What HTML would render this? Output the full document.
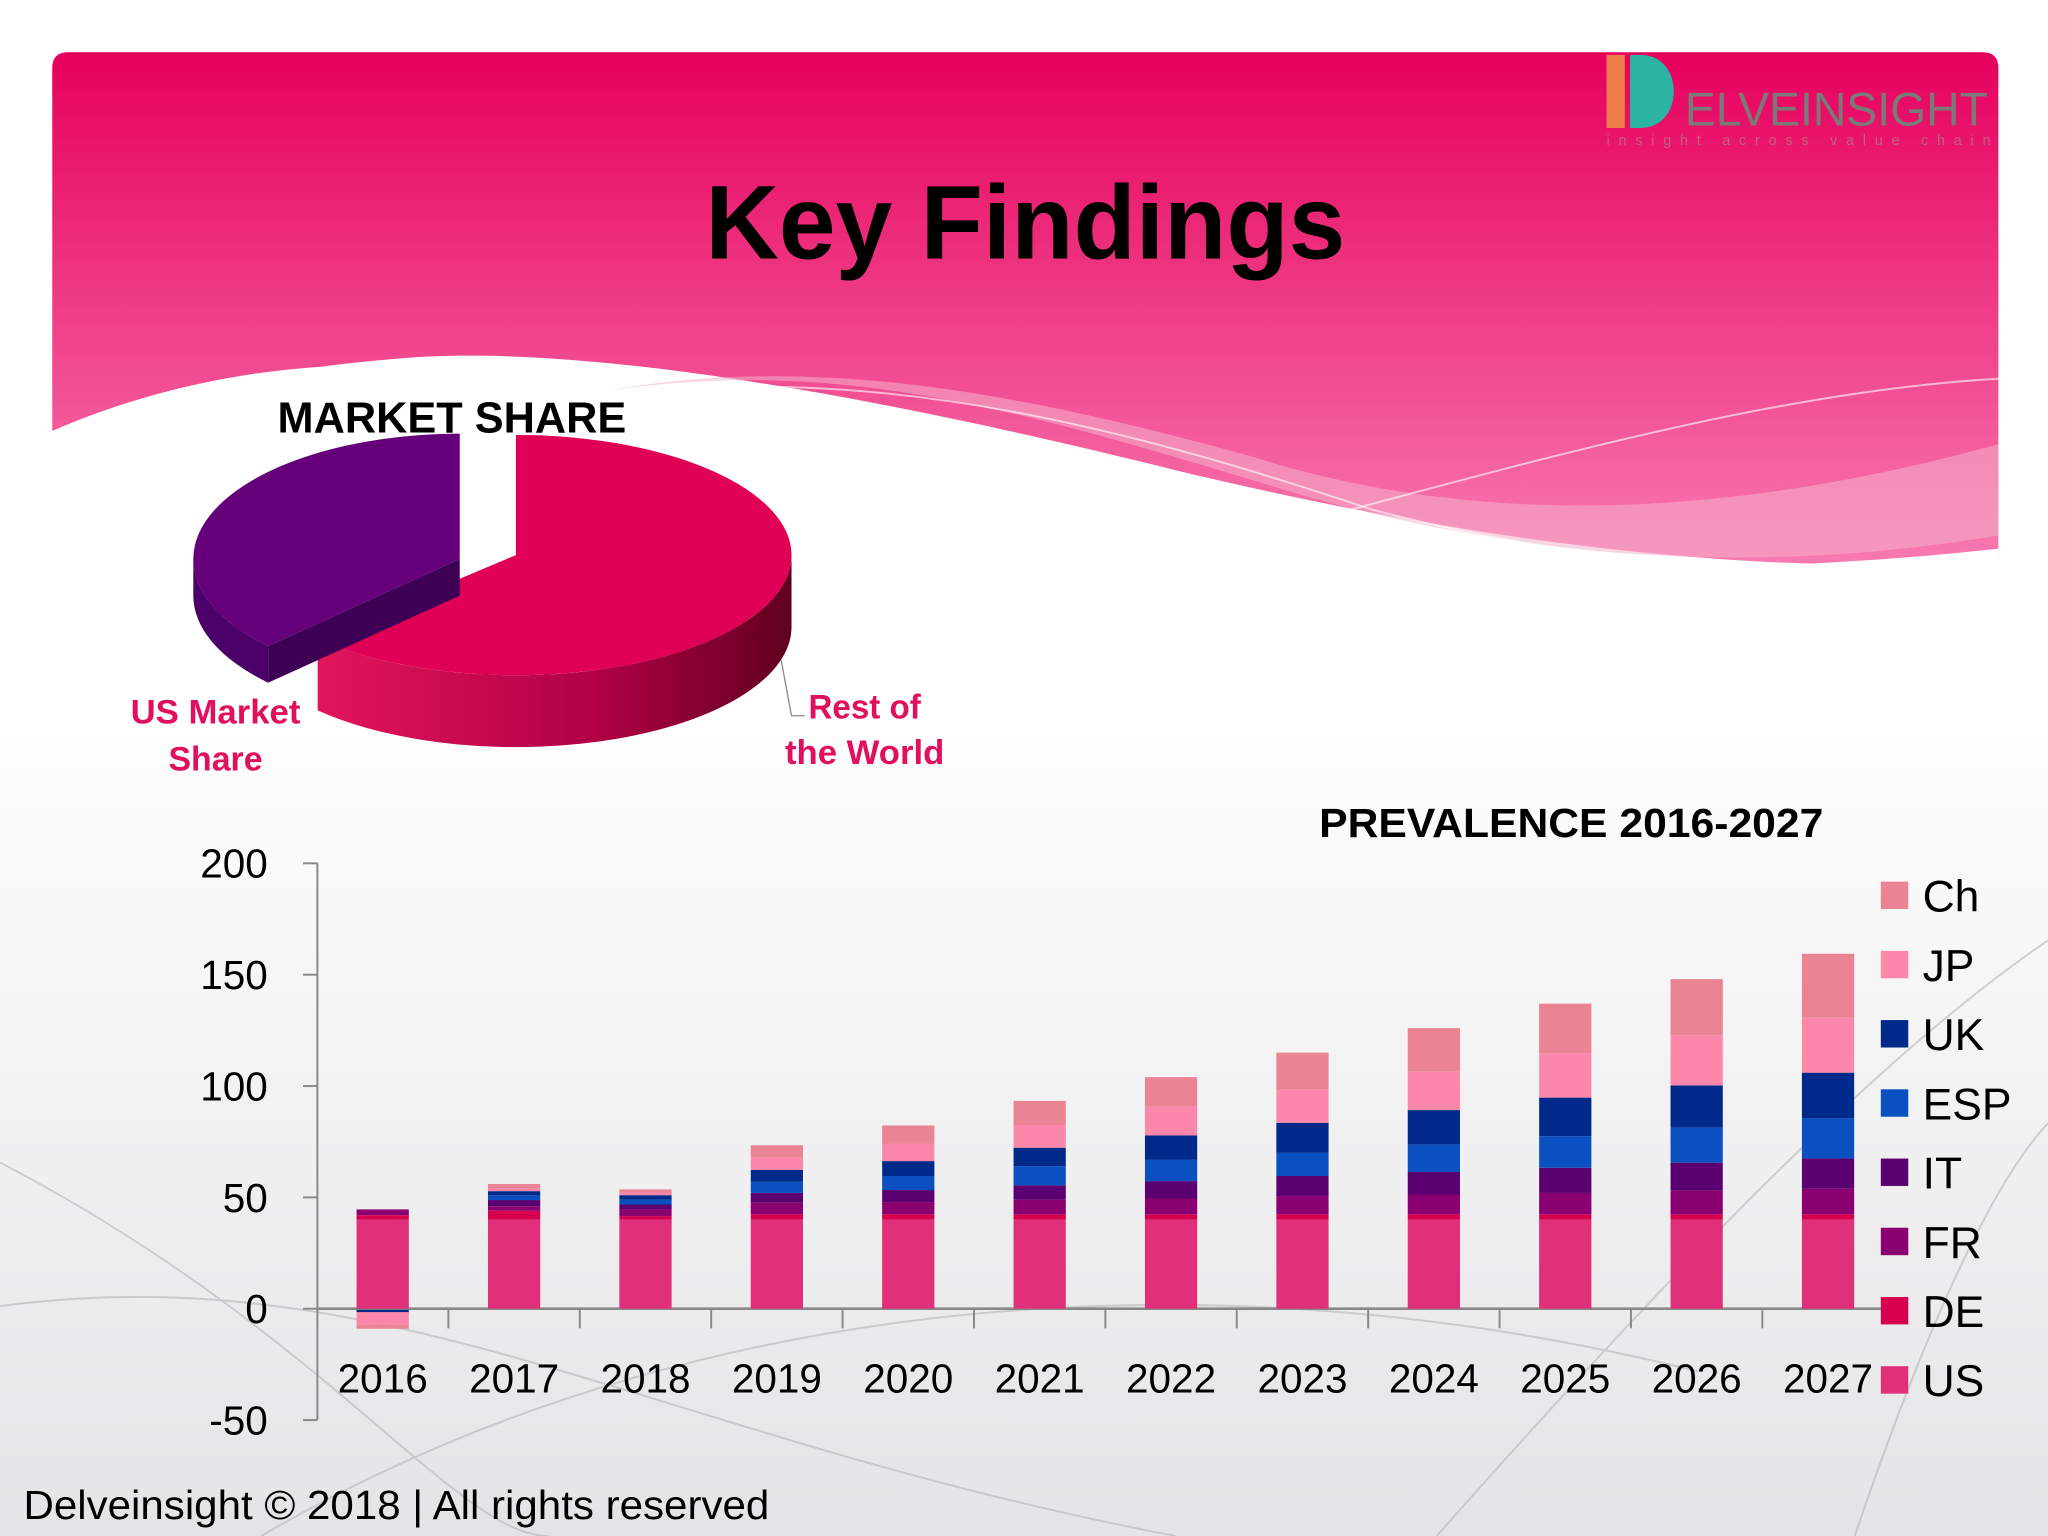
<!DOCTYPE html>
<html><head><meta charset="utf-8"><style>
html,body{margin:0;padding:0;background:#fff;}
svg{display:block;}
text{font-family:"Liberation Sans",sans-serif;}
</style></head><body>
<svg id="s" width="2048" height="1536" viewBox="0 0 1568 1176" xmlns="http://www.w3.org/2000/svg">
<defs>
<linearGradient id="bg" x1="0" y1="0" x2="0" y2="1">
<stop offset="0" stop-color="#ffffff"/><stop offset="0.45" stop-color="#ffffff"/><stop offset="1" stop-color="#e4e4e6"/>
</linearGradient>
<linearGradient id="hd" x1="0" y1="0" x2="0" y2="1">
<stop offset="0" stop-color="#e6005c"/><stop offset="0.5" stop-color="#ef3c86"/><stop offset="1" stop-color="#f87ab0"/>
</linearGradient>
<linearGradient id="rs" x1="0" y1="0" x2="1" y2="0">
<stop offset="0" stop-color="#e2155c"/><stop offset="0.6" stop-color="#b00045"/><stop offset="1" stop-color="#60001e"/>
</linearGradient>
</defs>
<rect width="1568" height="1176" fill="url(#bg)"/>
<path d="M40,52 Q40,40 52,40 L1518,40 Q1530,40 1530,52 L1530,430 C1350,440 1150,420 900,360 C700,310 450,260 300,275 C180,285 90,310 40,330 Z" fill="url(#hd)"/>
<path d="M460,300 C650,270 800,320 1000,380 C1180,430 1350,440 1530,410 L1530,340 C1350,390 1150,410 960,350 C780,300 620,270 460,300Z" fill="#f4b0cc" opacity="0.55"/>
<path d="M40,330 C130,290 250,270 340,285 C520,300 700,350 900,400 C1100,445 1350,440 1530,420 L1530,440 L40,440Z" fill="#fff"/>
<path d="M500,300 C700,280 900,340 1050,390 C1200,430 1300,430 1410,438" fill="none" stroke="#fff" stroke-opacity="0.6" stroke-width="1.5"/>
<path d="M960,410 C1150,360 1350,300 1530,290" fill="none" stroke="#fff" stroke-opacity="0.6" stroke-width="1.5"/>
<g fill="none" stroke="#bdbdc2" stroke-width="1.5" opacity="0.7">
<path d="M0,1000 C300,960 500,1100 900,1176"/>
<path d="M0,890 C250,1020 350,1176 420,1176"/>
<path d="M1100,1176 C1300,950 1450,800 1568,720"/>
<path d="M1420,1176 C1480,1000 1530,900 1568,860"/>
<path d="M200,1176 C500,1000 900,950 1300,1050"/>
</g>
<text x="785" y="198" font-size="80" font-weight="bold" text-anchor="middle" textLength="490" lengthAdjust="spacingAndGlyphs">Key Findings</text>
<rect x="1230" y="42" width="14" height="56" fill="#ef7d4a"/>
<path d="M1248,42 L1256,42 C1290,42 1290,98 1256,98 L1248,98 Z" fill="#2bb3a3"/>
<text x="1290" y="96" font-size="36" fill="#7a7a7a" textLength="232" lengthAdjust="spacingAndGlyphs">ELVEINSIGHT</text>
<text x="1230" y="111" font-size="11" fill="#c06080" textLength="294" lengthAdjust="spacing">insight across value chain</text>
<g id="pie"></g>
<text x="346" y="331" font-size="33" font-weight="bold" text-anchor="middle" textLength="267" lengthAdjust="spacingAndGlyphs">MARKET SHARE</text>
<text x="165" y="554" font-size="26" font-weight="bold" fill="#e0105e" text-anchor="middle" textLength="130" lengthAdjust="spacingAndGlyphs">US Market</text>
<text x="165" y="590" font-size="26" font-weight="bold" fill="#e0105e" text-anchor="middle" textLength="72" lengthAdjust="spacingAndGlyphs">Share</text>
<path d="M598,505 L606,548 L616,548" fill="none" stroke="#888" stroke-width="1"/>
<text x="662" y="550" font-size="26" font-weight="bold" fill="#e0105e" text-anchor="middle" textLength="86" lengthAdjust="spacingAndGlyphs">Rest of</text>
<text x="662" y="585" font-size="26" font-weight="bold" fill="#e0105e" text-anchor="middle" textLength="122" lengthAdjust="spacingAndGlyphs">the World</text>
<text x="1203" y="641" font-size="31" font-weight="bold" text-anchor="middle" textLength="386" lengthAdjust="spacingAndGlyphs">PREVALENCE 2016-2027</text>
<g id="chart"></g>
<text x="18" y="1163" font-size="31" textLength="571" lengthAdjust="spacingAndGlyphs">Delveinsight © 2018 | All rights reserved</text>
</svg>
<script>
var NS="http://www.w3.org/2000/svg";
function el(p,t,a,txt){var e=document.createElementNS(NS,t);for(var k in a)e.setAttribute(k,a[k]);if(txt!==undefined)e.textContent=txt;p.appendChild(e);return e;}
var pie=document.getElementById('pie');
function pt(cx,cy,rx,ry,a){var r=a*Math.PI/180;return [cx+rx*Math.cos(r),cy+ry*Math.sin(r)];}
var rc=[395,425],rrx=211,rry=92,d=55,ea=136;
var a0=pt(rc[0],rc[1],rrx,rry,0),a1=pt(rc[0],rc[1],rrx,rry,ea);
el(pie,'path',{d:'M'+a0+' A'+rrx+','+rry+' 0 0 1 '+a1+' L'+a1[0]+','+(a1[1]+d)+' A'+rrx+','+rry+' 0 0 0 '+a0[0]+','+(a0[1]+d)+'Z',fill:'url(#rs)'});
var t0=pt(rc[0],rc[1],rrx,rry,-90);
el(pie,'path',{d:'M'+rc+' L'+t0+' A'+rrx+','+rry+' 0 1 1 '+a1+'Z',fill:'#e00055'});
var pc=[352,428],prx=204,pry=96,pd=28;
var p0=pt(pc[0],pc[1],prx,pry,ea),p1=pt(pc[0],pc[1],prx,pry,180),p2=pt(pc[0],pc[1],prx,pry,-90);
el(pie,'path',{d:'M'+p1+' A'+prx+','+pry+' 0 0 0 '+p0+' L'+p0[0]+','+(p0[1]+pd)+' A'+prx+','+pry+' 0 0 1 '+p1[0]+','+(p1[1]+pd)+'Z',fill:'#4a0068'});
el(pie,'path',{d:'M'+pc+' L'+p0+' L'+p0[0]+','+(p0[1]+pd)+' L'+pc[0]+','+(pc[1]+pd)+'Z',fill:'#3e0055'});
el(pie,'path',{d:'M'+pc+' L'+p0+' A'+prx+','+pry+' 0 0 1 '+p2+'Z',fill:'#65007a'});
var c=document.getElementById('chart');
var y0=1002,u=1.705;function Y(v){return y0-v*u;}
el(c,'line',{x1:243,y1:Y(200),x2:243,y2:Y(-50),stroke:'#888','stroke-width':1.5});
el(c,'line',{x1:243,y1:y0,x2:1440,y2:y0,stroke:'#888','stroke-width':2});
[200,150,100,50,0,-50].forEach(function(v){el(c,'line',{x1:232,y1:Y(v),x2:243,y2:Y(v),stroke:'#888','stroke-width':1.5});
el(c,'text',{x:205,y:Y(v)+11,'font-size':31,'text-anchor':'end'},String(v));});
var cols=['#e0307a','#d6004f','#8b0070','#5a0070','#0a50c0','#002a8a','#fb88aa','#ea8494'];
var data=[[40,42,44.6,44.6,44.6,44.6,44.6,44.6],[40,44,46,48.8,50.9,52.8,54,56],[40,41.6,44.6,46.8,49,51,52,53.6],
[40,42.4,47.6,52,57,62.3,67.8,73.4],[40,42.4,47.9,53.3,59.6,66.3,74,82.3],[40,42.4,49,55.4,64,72.3,82.5,93.3],
[40,42.4,49.5,57.3,67,77.8,90.7,104],[40,42.4,50.6,59.6,70,83.5,98.5,115],[40,42.4,51.3,61.4,73.8,89.2,106.4,126],
[40,42.4,52,63.3,77.5,94.8,114.7,137],[40,42.4,53,65.6,81.3,100.3,122.8,148],[40,42.4,53.9,67.5,85.5,106,130.7,159.4]];
for(var i=0;i<12;i++){var cx=293+i*100.6,prev=0;
 for(var j=0;j<8;j++){var v=data[i][j];el(c,'rect',{x:cx-20,y:Y(v),width:40,height:Math.max(0,(v-prev)*u),fill:cols[j]});prev=v;}
 el(c,'text',{x:cx,y:1066,'font-size':31,'text-anchor':'middle'},String(2016+i));
 if(i>0)el(c,'line',{x1:cx-50.3,y1:y0,x2:cx-50.3,y2:y0+15,stroke:'#888','stroke-width':1.5});}
el(c,'rect',{x:273,y:Y(-0.5),width:40,height:2.5,fill:'#002a8a'});
el(c,'rect',{x:273,y:Y(-1.5),width:40,height:5.5*u,fill:'#fb88aa'});
el(c,'rect',{x:273,y:Y(-7),width:40,height:2*u,fill:'#ea8494'});
var leg=['Ch','JP','UK','ESP','IT','FR','DE','US'],lc=[7,6,5,4,3,2,1,0];
for(var k=0;k<8;k++){var ly=686+k*53;el(c,'rect',{x:1440,y:ly-11,width:21,height:21,fill:cols[lc[k]]});
 el(c,'text',{x:1472,y:ly+12,'font-size':34},leg[k]);}
</script>
</body></html>
